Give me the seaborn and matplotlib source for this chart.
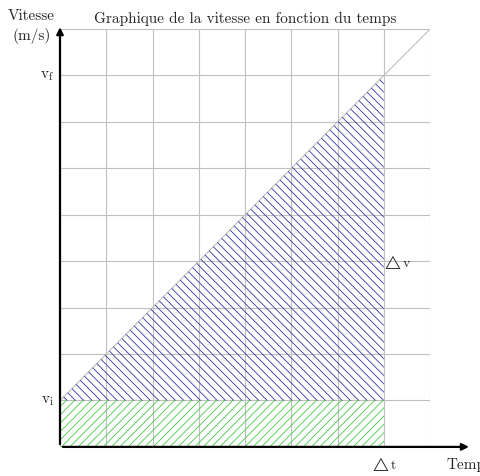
import numpy as np
import pandas as pd
import matplotlib.pyplot as plt
import seaborn as sns

# Data
t_line = [0, 8]
v_line = [1, 9]
t_area = [0, 7]
v_initial = 1
v_final = 8
t_end = 7

sns.set_style("white")
plt.rcParams['font.family'] = ['cmr10', 'DejaVu Serif']
plt.rcParams['mathtext.fontset'] = 'cm'
plt.rcParams['axes.formatter.use_mathtext'] = True
plt.rcParams['hatch.linewidth'] = 0.6

fig = plt.figure(figsize=(4.8, 4.77), dpi=100)
ax = fig.add_axes([0.125, 0.061, 0.771, 0.876])

# Grid
for x in range(0, 9):
    ax.axvline(x, color='#c0c0c0', lw=0.8, zorder=0)
for y in range(0, 10):
    ax.axhline(y, color='#c0c0c0', lw=0.8, zorder=0)

df = pd.DataFrame({'t': t_line, 'v': v_line})
sns.lineplot(data=df, x='t', y='v', ax=ax, color='#c0c0c0', lw=0.8, zorder=1)

# Green rectangle (initial speed * time)
ts = np.array(t_area)
ax.fill_between(ts, 0, v_initial, facecolor='none', edgecolor='#44cc44',
                hatch='////', linewidth=0, zorder=2)
# Blue triangle (delta v)
ax.fill_between(ts, v_initial, v_initial + ts, facecolor='none', edgecolor='#3333aa',
                hatch='\\\\\\\\', linewidth=0, zorder=2)

ax.set_xlim(0, 8)
ax.set_ylim(0, 9)
ax.set_xticks([])
ax.set_yticks([])
for s in ax.spines.values():
    s.set_visible(False)
ax.set_xlabel('')
ax.set_ylabel('')

# Axes arrows
ax.annotate('', xy=(8.9, 0), xytext=(0, 0), annotation_clip=False,
            arrowprops=dict(arrowstyle='-|>', color='black', lw=1.6, mutation_scale=10))
ax.annotate('', xy=(0, 9.1), xytext=(0, 0), annotation_clip=False,
            arrowprops=dict(arrowstyle='-|>', color='black', lw=1.6, mutation_scale=10))

# Labels
ax.text(-0.12, v_initial, r'$\mathrm{v_i}$', ha='right', va='center', fontsize=11)
ax.text(-0.12, v_final, r'$\mathrm{v_f}$', ha='right', va='center', fontsize=11)
ax.text(t_end - 0.05, 4, r'$\triangle\mathrm{v}$', ha='left', va='center', fontsize=10)
ax.text(t_end, -0.15, r'$\triangle\mathrm{t}$', ha='center', va='top', fontsize=10)
ax.text(8.35, -0.2, 'Temps(s)', ha='left', va='top', fontsize=11)
ax.text(-0.62, 8.7, 'Vitesse\n(m/s)', ha='center', va='bottom', fontsize=11, linespacing=1.4)
ax.set_title('Graphique de la vitesse en fonction du temps', fontsize=11, pad=5)

fig.savefig('out.png', dpi=100, facecolor='white')
